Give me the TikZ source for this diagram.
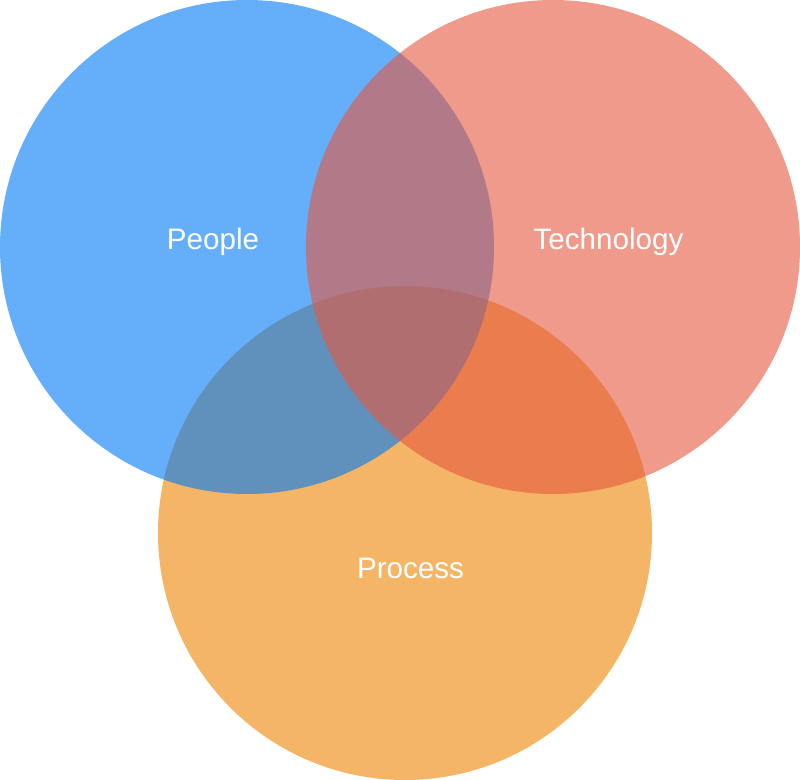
\documentclass[tikz,border=0pt]{standalone}
\usepackage{fontspec}
\setmainfont{Liberation Sans}
\definecolor{cblue}{RGB}{0,121,247}
\definecolor{cred}{RGB}{229,88,63}
\definecolor{corange}{RGB}{237,133,2}
\begin{document}
\begin{tikzpicture}[x=0.75pt,y=-0.75pt,
  venn/.style={circle,draw=none,inner sep=0pt,minimum size=370.5pt,fill opacity=0.605},
  lbl/.style={text=white,font=\fontsize{22.2}{26}\selectfont,anchor=base,inner sep=0pt}]
\useasboundingbox (0,0) rectangle (800,780);
\node[venn,fill=corange] (process) at (405,533) {};
\node[venn,fill=cblue] (people) at (247,247) {};
\node[venn,fill=cred] (tech) at (553,247) {};
\node[lbl] (lpeople) at (213,250) {People};
\node[lbl] (ltech) at (608.5,250) {Technology};
\node[lbl] (lprocess) at (410.5,578) {Process};
\end{tikzpicture}
\end{document}
